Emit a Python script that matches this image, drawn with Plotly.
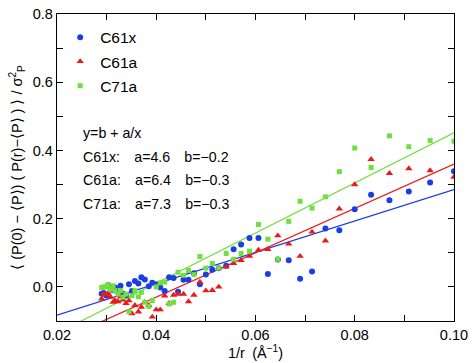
import plotly.graph_objects as go

# x = 1/r (Å^-1), r from 10 to 34.5 in 0.5 Å steps
inv_r = [0.1000, 0.0952, 0.0909, 0.0870, 0.0833, 0.0800, 0.0769, 0.0741, 0.0714, 0.0690,
         0.0667, 0.0645, 0.0625, 0.0606, 0.0588, 0.0571, 0.0556, 0.0541, 0.0526, 0.0513,
         0.0500, 0.0488, 0.0476, 0.0465, 0.0455, 0.0444, 0.0435, 0.0426, 0.0417, 0.0408,
         0.0400, 0.0392, 0.0385, 0.0377, 0.0370, 0.0364, 0.0357, 0.0351, 0.0345, 0.0339,
         0.0333, 0.0328, 0.0323, 0.0317, 0.0313, 0.0308, 0.0303, 0.0299, 0.0294, 0.0290]

c61x = [0.339, 0.306, 0.280, 0.254, 0.270, 0.228, 0.166, 0.171, 0.045, 0.024,
        0.078, 0.080, 0.038, 0.143, 0.143, 0.124, 0.110, 0.062, 0.055, 0.050,
        0.036, 0.008, 0.040, 0.021, 0.021, -0.014, 0.026, 0.028, -0.012, -0.002,
        0.008, 0.012, 0.002, 0.022, 0.028, 0.010, 0.017, -0.012, 0.008, -0.025,
        -0.020, 0.003, -0.015, -0.002, -0.010, -0.004, 0.005, -0.025, -0.018, -0.020]

c61a = [0.322, 0.341, 0.347, 0.333, 0.374, 0.300, 0.229, 0.135, 0.161, 0.090,
        0.126, 0.150, 0.110, 0.108, 0.090, 0.078, 0.069, 0.059, 0.000, -0.010,
        -0.011, 0.014, -0.024, -0.043, -0.021, -0.021, -0.024, -0.048, -0.026, -0.067,
        -0.067, -0.088, -0.054, -0.045, -0.059, -0.073, -0.054, -0.078, -0.040, -0.048,
        -0.038, -0.029, -0.043, -0.040, -0.045, -0.030, -0.019, -0.023, -0.021, -0.035]

c71a = [0.427, 0.429, 0.411, 0.443, 0.350, 0.407, 0.338, 0.264, 0.231, 0.251,
        0.192, 0.081, 0.140, 0.183, 0.105, 0.098, 0.081, 0.098, 0.055, 0.069,
        0.055, 0.089, 0.036, 0.048, 0.034, 0.043, -0.045, -0.050, 0.014, 0.012,
        0.000, -0.040, -0.057, -0.045, -0.016, -0.029, -0.011, -0.026, -0.073, -0.021,
        -0.030, -0.011, -0.021, -0.011, 0.003, -0.007, 0.006, 0.000, 0.000, -0.002]

series_names = ["C61x", "C61a", "C71a"]
series_vals = [c61x, c61a, c71a]
fit_a = [4.6, 6.5, 7.35]
fit_b = [-0.175, -0.29, -0.283]
fit_x = [0.02, 0.10]
label_a = [4.6, 6.4, 7.3]
label_b = [-0.2, -0.3, -0.3]

colors = ["#1b3de6", "#ea1a1a", "#6fe03c"]
symbols = ["circle", "triangle-up", "square"]
msizes = [6, 6.5, 5]

fig = go.Figure()
for i, name in enumerate(series_names):
    fig.add_trace(go.Scatter(
        x=fit_x, y=[fit_b[i] + fit_a[i] * v for v in fit_x], mode="lines",
        line=dict(color=colors[i], width=1.2), showlegend=False, hoverinfo="skip"))
for i, name in enumerate(series_names):
    fig.add_trace(go.Scatter(
        x=inv_r, y=series_vals[i], mode="markers", name=name, legendgroup=name,
        marker=dict(color=colors[i], symbol=symbols[i], size=msizes[i], line=dict(width=0))))

font = "Liberation Sans, Arial, Helvetica, sans-serif"
sp = "\u2003"
fit_lines = ["y=b + a/x"] + [
    f"{n}:{sp}a={a:.1f}{sp}b={b:.1f}".replace("-", "\u2212")
    for n, a, b in zip(series_names, label_a, label_b)]
for k, txt in enumerate(fit_lines):
    fig.add_annotation(x=0.0, y=0.451 - k * 0.0693, xref="paper", yref="y", text=txt,
                       showarrow=False, xanchor="left", yanchor="middle",
                       xshift=24, font=dict(size=14.2, color="black", family=font))

axis_common = dict(showline=True, linecolor="black", linewidth=1.3, mirror="ticks",
                   ticks="inside", ticklen=6, tickwidth=1, tickcolor="black",
                   showgrid=False, zeroline=False, ticklabeloverflow="allow",
                   tickfont=dict(size=14.5, color="black", family=font))

fig.update_layout(
    width=474, height=363,
    margin=dict(l=57, r=15, t=6, b=42),
    paper_bgcolor="white", plot_bgcolor="white",
    font=dict(family=font, color="black", size=14),
    legend=dict(x=0.008, y=0.978, xanchor="left", yanchor="top",
                bgcolor="rgba(0,0,0,0)", font=dict(size=15.5, family=font),
                tracegroupgap=1, itemwidth=30),
    xaxis=dict(range=[0.02, 0.10001], tick0=0.02, dtick=0.02, tickformat=".2f",
               minor=dict(dtick=0.01, ticks="inside", ticklen=6, tickcolor="black"),
               title=dict(text="1/r\u2002(Å<sup>\u22121</sup>)", font=dict(size=14.5), standoff=2),
               **axis_common),
    yaxis=dict(range=[-0.1, 0.8001], tick0=0.0, dtick=0.2, tickformat=".1f",
               minor=dict(dtick=0.1, ticks="inside", ticklen=6, tickcolor="black"),
               title=dict(text="\u27e8 (P(0) \u2212 \u27e8P\u27e9) ( P(r)\u2212\u27e8P\u27e9 ) \u27e9 / \u03c3<sup>2</sup><sub>P</sub>",
                          font=dict(size=14.5), standoff=6),
               **axis_common),
)

fig.write_html("out.html", config={"displayModeBar": False})
with open("out.html", "r", encoding="utf-8") as f:
    html = f.read()
html = html.replace("<head>", "<head><style>html,body{margin:0;padding:0;overflow:hidden;}</style>", 1)
with open("out.html", "w", encoding="utf-8") as f:
    f.write(html)
